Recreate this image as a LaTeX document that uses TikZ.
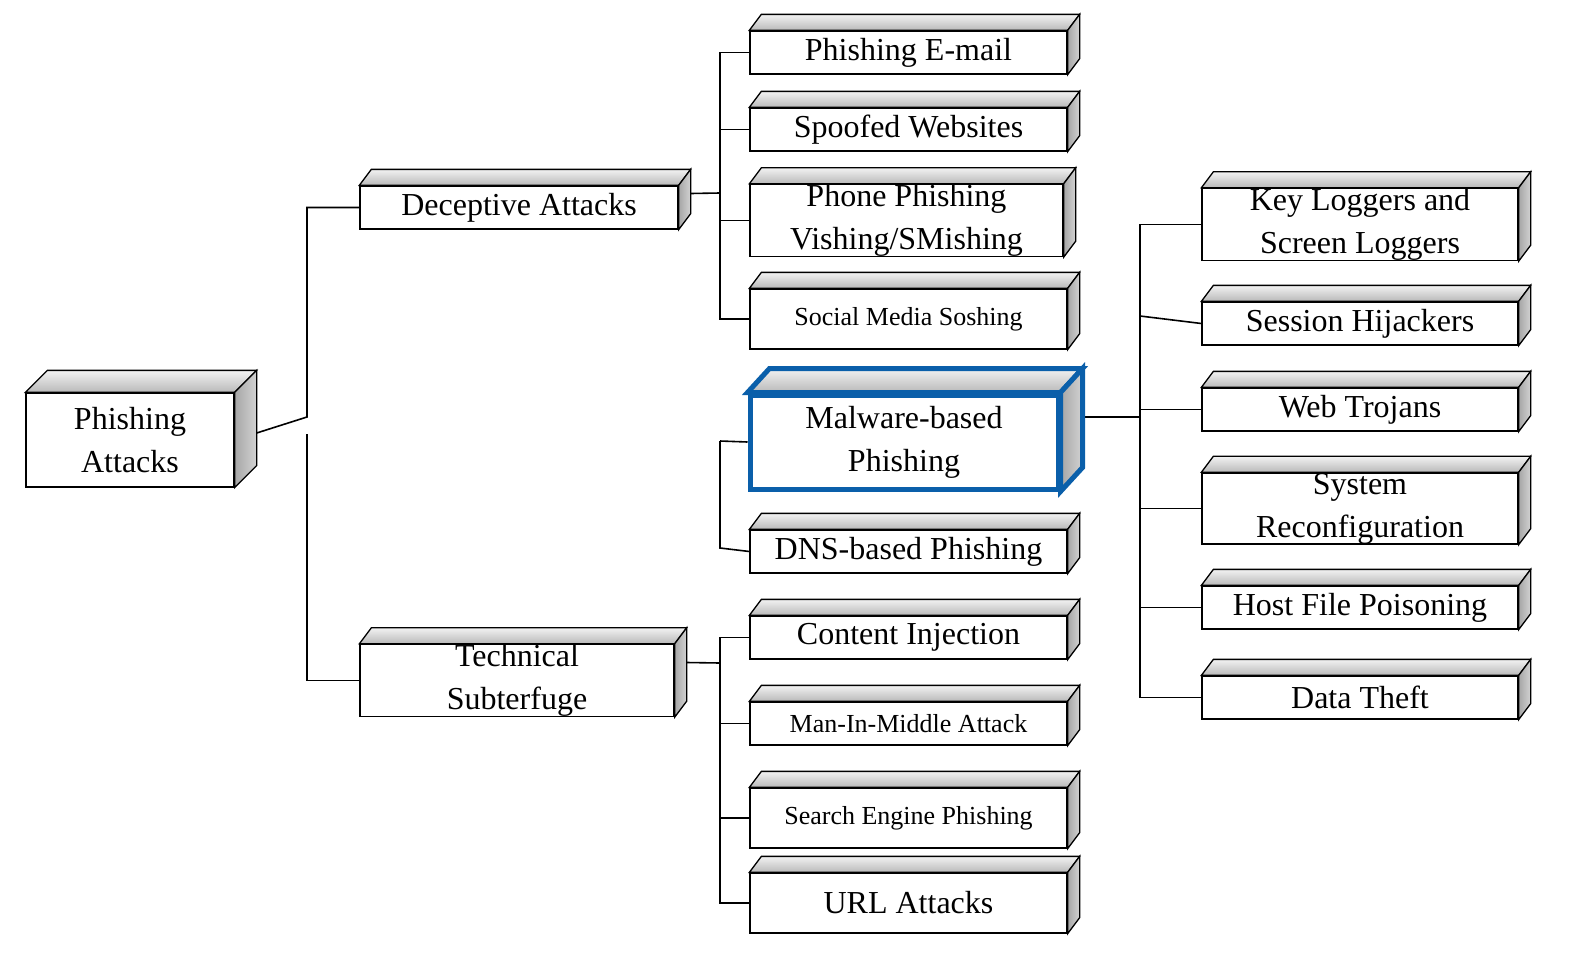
\documentclass[tikz,border=0pt]{standalone}
\usepackage{fontspec}
\setmainfont{Liberation Serif}
\usetikzlibrary{calc,backgrounds}
\definecolor{mblue}{RGB}{10,95,170}
\tikzset{
 box/.style={draw,fill=white,line width=1.3pt,align=center,inner sep=0pt,font=\fontsize{32}{43}\selectfont},
 sm/.style={font=\fontsize{26}{32}\selectfont},
 topf/.style={draw,line width=1.3pt,top color=gray!10,bottom color=gray!55},
 sidef/.style={draw,line width=1.3pt,left color=gray!70,right color=gray!35},
 con/.style={line width=1.6pt}
}
\newcommand\pbx[7][]{%
 \node[box,#1,minimum width={(#5-#3)*1pt},minimum height={(#6-#4)*1pt}] (#2) at ({(#3+#5)/2},{(#4+#6)/2}) {#7};
 \path[topf,#1] (#2.north west) -- ++(\dx,-\dy) -- ($(#2.north east)+(\dx,-\dy)$) -- (#2.north east) -- cycle;
 \path[sidef,#1] (#2.north east) -- ++(\dx,-\dy) -- ($(#2.south east)+(\dx,-\dy)$) -- (#2.south east) -- cycle;
 \node[box,#1,minimum width={(#5-#3)*1pt},minimum height={(#6-#4)*1pt}] at (#2) {#7};
}
\begin{document}
\begin{tikzpicture}[x=1pt,y=-1pt]
\useasboundingbox (0,0) rectangle (1571,953);
\def\dx{22}\def\dy{22}
\pbx{pa}{26}{393}{234}{487}{Phishing\\Attacks}
\def\dx{12}\def\dy{16}
\pbx{da}{360}{186}{678}{229}{Deceptive Attacks}
\pbx{ts}{360}{646}{674}{715}{Technical\\Subterfuge}
\pbx{c1}{750}{31}{1067}{74}{Phishing E-mail}
\pbx{c2}{750}{108}{1067}{151}{Spoofed Websites}
\pbx{c3}{750}{186}{1063}{255}{Phone Phishing\\Vishing/SMishing}
\pbx[sm]{c4}{750}{289}{1067}{349}{Social Media Soshing}
\def\dx{22}\def\dy{24}
\pbx[draw=mblue,line width=5pt]{m}{750}{395}{1058}{489}{Malware-based\\Phishing}
\def\dx{12}\def\dy{16}
\pbx{t2}{750}{530}{1067}{573}{DNS-based Phishing}
\pbx{t3}{750}{616}{1067}{659}{Content Injection}
\pbx[sm]{t4}{750}{702}{1067}{745}{Man-In-Middle Attack}
\pbx[sm]{t5}{750}{788}{1067}{848}{Search Engine Phishing}
\pbx{t6}{750}{873}{1067}{933}{URL Attacks}
\pbx{k1}{1202}{190}{1518}{259}{Key Loggers and\\Screen Loggers}
\pbx{k2}{1202}{302}{1518}{345}{Session Hijackers}
\pbx{k3}{1202}{388}{1518}{431}{Web Trojans}
\pbx{k4}{1202}{474}{1518}{543}{System\\Reconfiguration}
\pbx{k5}{1202}{586}{1518}{629}{Host File Poisoning}
\pbx{k6}{1202}{676}{1518}{719}{Data Theft}
\begin{scope}[on background layer]
\draw[con] (pa.east) -- (307,417) |- (da.west);
\coordinate (g) at (307,434);
\draw[con] (g) |- (ts.west);
\draw[con] ($(da.east)+(12,-14)$) -- (720,193);
\foreach \c in {c1,c2,c3,c4} \draw[con] (720,193) |- (\c.west);
\draw[con] ($(ts.east)+(12,-18)$) -- (720,663);
\draw[con] (720,441) -- (m.west);
\foreach \c in {t3,t4,t5,t6} \draw[con] (720,663) |- (\c.west);
\draw[con] (720,441) -- (720,548) -- (t2.west);
\draw[con] ($(m.east)+(20,-25)$) -- (1140,417);
\foreach \c in {k1,k3,k4,k5,k6} \draw[con] (1140,417) |- (\c.west);
\draw[con] (1140,316) -- (k2.west);
\end{scope}
\end{tikzpicture}
\end{document}
